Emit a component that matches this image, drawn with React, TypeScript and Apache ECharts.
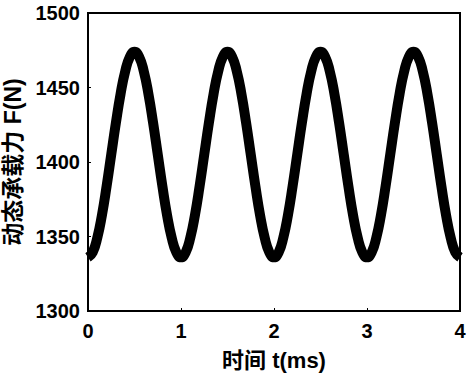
import React, { useEffect, useRef } from "react";
import * as echarts from "echarts";

const timeMs: number[] = [
  0, 0.05, 0.1, 0.15, 0.2, 0.25, 0.3, 0.35, 0.4, 0.45,
  0.5, 0.55, 0.6, 0.65, 0.7, 0.75, 0.8, 0.85, 0.9, 0.95,
  1, 1.05, 1.1, 1.15, 1.2, 1.25, 1.3, 1.35, 1.4, 1.45,
  1.5, 1.55, 1.6, 1.65, 1.7, 1.75, 1.8, 1.85, 1.9, 1.95,
  2, 2.05, 2.1, 2.15, 2.2, 2.25, 2.3, 2.35, 2.4, 2.45,
  2.5, 2.55, 2.6, 2.65, 2.7, 2.75, 2.8, 2.85, 2.9, 2.95,
  3, 3.05, 3.1, 3.15, 3.2, 3.25, 3.3, 3.35, 3.4, 3.45,
  3.5, 3.55, 3.6, 3.65, 3.7, 3.75, 3.8, 3.85, 3.9, 3.95,
  4,
];

const forceN: number[] = [
  1336, 1339.4, 1349.2, 1364.4, 1383.7, 1405, 1426.3, 1445.6, 1460.8, 1470.6,
  1474, 1470.6, 1460.8, 1445.6, 1426.3, 1405, 1383.7, 1364.4, 1349.2, 1339.4,
  1336, 1339.4, 1349.2, 1364.4, 1383.7, 1405, 1426.3, 1445.6, 1460.8, 1470.6,
  1474, 1470.6, 1460.8, 1445.6, 1426.3, 1405, 1383.7, 1364.4, 1349.2, 1339.4,
  1336, 1339.4, 1349.2, 1364.4, 1383.7, 1405, 1426.3, 1445.6, 1460.8, 1470.6,
  1474, 1470.6, 1460.8, 1445.6, 1426.3, 1405, 1383.7, 1364.4, 1349.2, 1339.4,
  1336, 1339.4, 1349.2, 1364.4, 1383.7, 1405, 1426.3, 1445.6, 1460.8, 1470.6,
  1474, 1470.6, 1460.8, 1445.6, 1426.3, 1405, 1383.7, 1364.4, 1349.2, 1339.4,
  1336,
];

const xLabel = "时间 t(ms)";
const yLabel = "动态承载力 F(N)";

const FONT = "'Liberation Sans', Arial, 'Noto Sans CJK SC', sans-serif";

export default function App() {
  const ref = useRef<HTMLDivElement>(null);
  useEffect(() => {
    if (!ref.current) return;
    const chart = echarts.init(ref.current, undefined, { renderer: "svg" });
    chart.setOption({
      animation: false,
      backgroundColor: "#fff",
      grid: {
        left: 88,
        right: 14,
        top: 13,
        bottom: 68,
        show: true,
        borderColor: "#000",
        borderWidth: 2,
        backgroundColor: "transparent",
        containLabel: false,
        outerBoundsMode: "none",
      },
      xAxis: {
        type: "value",
        min: 0,
        max: 4,
        interval: 1,
        name: xLabel,
        nameLocation: "middle",
        nameGap: 38,
        nameTextStyle: { fontFamily: FONT, fontWeight: "bold", fontSize: 22, color: "#000" },
        axisLine: { show: true, onZero: false, lineStyle: { color: "#000", width: 2 } },
        axisTick: { show: true, inside: true, length: 3, lineStyle: { color: "#000" } },
        splitLine: { show: false },
        axisLabel: {
          fontFamily: FONT, fontWeight: "bold", fontSize: 20, color: "#000", margin: 10,
          formatter: (v: number) => String(v),
        },
      },
      yAxis: {
        type: "value",
        min: 1300,
        max: 1500,
        interval: 50,
        name: yLabel,
        nameLocation: "middle",
        nameGap: 61,
        nameRotate: 90,
        nameTextStyle: { fontFamily: FONT, fontWeight: "bold", fontSize: 23, color: "#000" },
        axisLine: { show: true, lineStyle: { color: "#000", width: 2 } },
        axisTick: { show: true, inside: true, length: 3, lineStyle: { color: "#000" } },
        splitLine: { show: false },
        axisLabel: {
          fontFamily: FONT, fontWeight: "bold", fontSize: 20, color: "#000", margin: 8,
          formatter: (v: number) => String(v),
        },
      },
      series: [
        {
          type: "line",
          data: timeMs.map((t, i) => [t, forceN[i]]),
          showSymbol: false,
          smooth: true,
          lineStyle: { color: "#000", width: 10, cap: "butt", join: "round" },
        },
      ],
    });
    return () => chart.dispose();
  }, []);
  return (
    <div
      ref={ref}
      style={{ position: "fixed", left: 0, top: 0, width: 474, height: 379, background: "#fff" }}
    />
  );
}
